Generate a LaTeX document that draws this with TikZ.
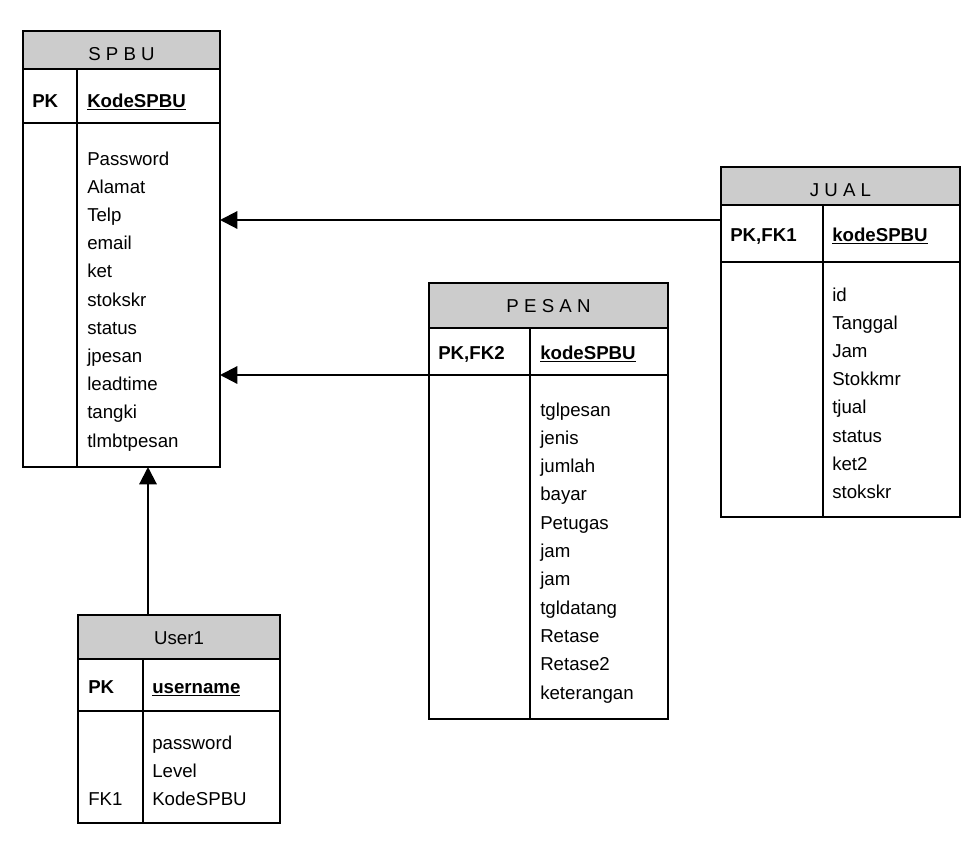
\documentclass[tikz,border=0pt]{standalone}
\usepackage{fontspec}
\setmainfont{Liberation Sans}
\usetikzlibrary{arrows.meta}
\tikzset{
kepala/.style={draw=black, fill=black!20, line width=0.9pt},
kotak/.style={draw=black, fill=white, line width=0.9pt},
isi/.style={anchor=base west, inner sep=0pt, font=\fontsize{14}{16}\selectfont},
relasi/.style={line width=1.6pt, -{Triangle[length=13pt, width=13pt]}}
}
\begin{document}
\begin{tikzpicture}[x=0.75pt,y=-0.75pt]
\useasboundingbox (0,0) rectangle (976,851);

% SPBU
\draw[kepala] (23,31) rectangle (220,69);
\draw[kotak] (23,69) rectangle (220,467);
\draw[line width=0.9pt] (23,123) -- (220,123) (77,69) -- (77,467);
\node[isi, anchor=base] (spbuJ) at (121.5,60) {S P B U};
\node[isi] (spbuPK) at (32,107) {\textbf{PK}};
\node[isi] (spbuK) at (87,107) {\textbf{\underline{KodeSPBU}}};
\foreach \t [count=\i from 0] in {Password,Alamat,Telp,email,ket,stokskr,status,jpesan,leadtime,tangki,tlmbtpesan}
  \node[isi] (spbu\i) at (87,165+28.2*\i) {\t};

% JUAL
\draw[kepala] (721,167) rectangle (960,205);
\draw[kotak] (721,205) rectangle (960,517);
\draw[line width=0.9pt] (721,262) -- (960,262) (823,205) -- (823,517);
\node[isi, anchor=base] (jualJ) at (840.5,196) {J U A L};
\node[isi] (jualPK) at (730,241) {\textbf{PK,FK1}};
\node[isi] (jualK) at (832,241) {\textbf{\underline{kodeSPBU}}};
\foreach \t [count=\i from 0] in {id,Tanggal,Jam,Stokkmr,tjual,status,ket2,stokskr}
  \node[isi] (jual\i) at (832,301+28.2*\i) {\t};

% PESAN
\draw[kepala] (429,283) rectangle (668,328);
\draw[kotak] (429,328) rectangle (668,719);
\draw[line width=0.9pt] (429,375) -- (668,375) (530,328) -- (530,719);
\node[isi, anchor=base] (pesanJ) at (548.5,312) {P E S A N};
\node[isi] (pesanPK) at (438,359) {\textbf{PK,FK2}};
\node[isi] (pesanK) at (540,359) {\textbf{\underline{kodeSPBU}}};
\foreach \t [count=\i from 0] in {tglpesan,jenis,jumlah,bayar,Petugas,jam,jam,tgldatang,Retase,Retase2,keterangan}
  \node[isi] (pesan\i) at (540,416+28.3*\i) {\t};

% User1
\draw[kepala] (78,615) rectangle (280,659);
\draw[kotak] (78,659) rectangle (280,711);
\draw[kotak] (78,711) rectangle (280,823);
\draw[line width=0.9pt] (143,659) -- (143,823);
\node[isi, anchor=base] (userJ) at (179,644) {User1};
\node[isi] (userPK) at (88,693) {\textbf{PK}};
\node[isi] (userK) at (152,693) {\textbf{\underline{username}}};
\foreach \t [count=\i from 0] in {password,Level,KodeSPBU}
  \node[isi] (user\i) at (152,749+28*\i) {\t};
\node[isi] (userFK) at (88,805) {FK1};

% relasi
\coordinate (a1) at (721,220);
\coordinate (b1) at (220,220);
\coordinate (a2) at (429,375);
\coordinate (b2) at (220,375);
\coordinate (a3) at (148,615);
\coordinate (b3) at (148,467);
\draw[relasi] (a1) -- (b1);
\draw[relasi] (a2) -- (b2);
\draw[relasi] (a3) -- (b3);
\end{tikzpicture}
\end{document}
